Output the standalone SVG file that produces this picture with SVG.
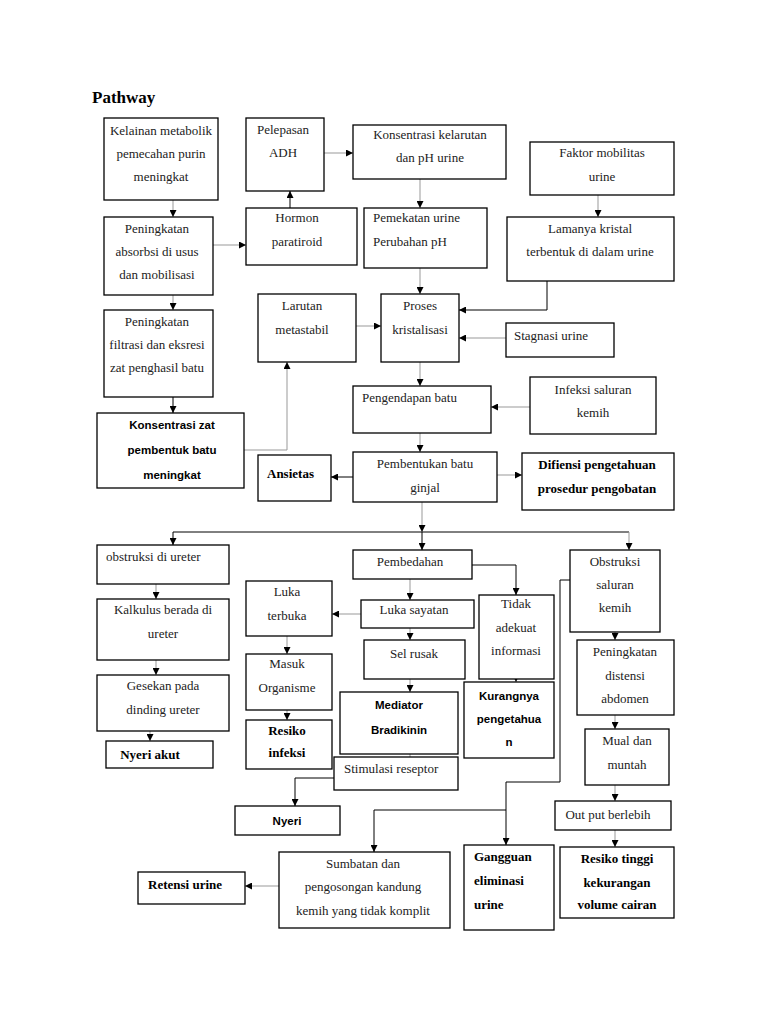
<svg xmlns="http://www.w3.org/2000/svg" width="768" height="1024" viewBox="0 0 768 1024">
<defs>
<marker id="a" viewBox="0 0 10 10" refX="10" refY="5" markerWidth="7" markerHeight="7" orient="auto" markerUnits="userSpaceOnUse"><path d="M0,0L10,5L0,10z" fill="#000"/></marker>
</defs>
<style>
rect{fill:#fff;stroke:#000;stroke-width:1.3}
text{font-family:"Liberation Serif",serif;font-size:13px;fill:#222}
.c{text-anchor:middle}
.b{font-weight:bold;fill:#000;font-size:13px}
.s{font-family:"Liberation Sans",Arial,sans-serif;font-weight:bold;font-size:11.5px;fill:#000}
.g{fill:none;stroke:#999;stroke-width:1;marker-end:url(#a)}
.k{fill:none;stroke:#000;stroke-width:1;marker-end:url(#a)}
.n{fill:none;stroke:#000;stroke-width:1}
</style>
<rect x="0" y="0" width="768" height="1024" style="stroke:none"/>
<text x="92" y="103" style="font-size:17px;font-weight:bold;fill:#000">Pathway</text>
<g id="connectors">
<path class="g" d="M173,200V217"/>
<path class="g" d="M173,295V310"/>
<path class="k" d="M173,397V413"/>
<path class="g" d="M213,245H246"/>
<path class="k" d="M290,208V191"/>
<path class="g" d="M324,153H353"/>
<path class="g" d="M420,179V208"/>
<path class="g" d="M420,268V294"/>
<path class="g" d="M598,195V217"/>
<path class="k" d="M547,281V310H459"/>
<path class="g" d="M506,338H459"/>
<path class="g" d="M356,326H381"/>
<path class="g" d="M244,450H287V362"/>
<path class="g" d="M420,362V386"/>
<path class="g" d="M530,407H491"/>
<path class="g" d="M420,433V452"/>
<path class="k" d="M353,477H331"/>
<path class="g" d="M497,475H522"/>
<path class="g" d="M422,502V532"/>
<path class="n" d="M173,532H629"/>
<path class="k" d="M173,532V545"/>
<path class="k" d="M422,532V550"/>
<path class="g" d="M629,532V550"/>
<path class="g" d="M156,584V599"/>
<path class="g" d="M156,660V675"/>
<path class="g" d="M150,731V741"/>
<path class="g" d="M410,579V600"/>
<path class="k" d="M472,565H516V595"/>
<path class="g" d="M361,614H332"/>
<path class="g" d="M287,636V654"/>
<path class="g" d="M287,710V720"/>
<path class="g" d="M410,628V640"/>
<path class="g" d="M410,679V692"/>
<path class="g" d="M410,754V765"/>
<path class="g" d="M516,679V682"/>
<path class="k" d="M334,778H295V806"/>
<path class="g" d="M615,632V640"/>
<path class="g" d="M615,715V729"/>
<path class="g" d="M615,785V801"/>
<path class="g" d="M615,830V847"/>
<path class="n" d="M570,580H560V782H506"/>
<path class="k" d="M506,782V845"/>
<path class="k" d="M506,810H374V852"/>
<path class="g" d="M279,886H245"/>
</g>
<g id="n1"><rect x="104" y="118" width="114" height="82"/><text class="c" x="161" y="135">Kelainan metabolik</text><text class="c" x="161" y="158">pemecahan purin</text><text class="c" x="161" y="181">meningkat</text></g>
<g id="n2"><rect x="246" y="118" width="78" height="73"/><text class="c" x="283" y="134">Pelepasan</text><text class="c" x="283" y="157">ADH</text></g>
<g id="n3"><rect x="353" y="125" width="153" height="54"/><text class="c" x="430" y="139">Konsentrasi kelarutan</text><text class="c" x="430" y="162">dan pH  urine</text></g>
<g id="n4"><rect x="530" y="142" width="144" height="53"/><text class="c" x="602" y="157">Faktor mobilitas</text><text class="c" x="602" y="181">urine</text></g>
<g id="n5"><rect x="104" y="217" width="109" height="78"/><text class="c" x="157" y="233">Peningkatan</text><text class="c" x="157" y="256">absorbsi di usus</text><text class="c" x="157" y="279">dan mobilisasi</text></g>
<g id="n6"><rect x="246" y="208" width="111" height="57"/><text class="c" x="297" y="222">Hormon</text><text class="c" x="297" y="246">paratiroid</text></g>
<g id="n7"><rect x="364" y="208" width="123" height="60"/><text x="373" y="222">Pemekatan urine</text><text x="373" y="246">Perubahan pH</text></g>
<g id="n8"><rect x="507" y="217" width="167" height="64"/><text class="c" x="590" y="233">Lamanya kristal</text><text class="c" x="590" y="256">terbentuk di dalam urine</text></g>
<g id="n9"><rect x="104" y="310" width="109" height="87"/><text class="c" x="157" y="326">Peningkatan</text><text class="c" x="157" y="349">filtrasi dan eksresi</text><text class="c" x="157" y="372">zat penghasil batu</text></g>
<g id="n10"><rect x="258" y="294" width="98" height="68"/><text class="c" x="302" y="310">Larutan</text><text class="c" x="302" y="334">metastabil</text></g>
<g id="n11"><rect x="381" y="294" width="78" height="68"/><text class="c" x="420" y="310">Proses</text><text class="c" x="420" y="334">kristalisasi</text></g>
<g id="n12"><rect x="506" y="323" width="108" height="34"/><text x="514" y="340">Stagnasi urine</text></g>
<g id="n13"><rect x="97" y="413" width="147" height="75"/><text class="c s" x="172" y="429">Konsentrasi zat</text><text class="c s" x="172" y="454">pembentuk batu</text><text class="c s" x="172" y="479">meningkat</text></g>
<g id="n14"><rect x="353" y="386" width="138" height="47"/><text x="362" y="402">Pengendapan batu</text></g>
<g id="n15"><rect x="530" y="377" width="126" height="57"/><text class="c" x="593" y="394">Infeksi saluran</text><text class="c" x="593" y="417">kemih</text></g>
<g id="n16"><rect x="258" y="455" width="73" height="46"/><text class="b" x="267" y="478">Ansietas</text></g>
<g id="n17"><rect x="353" y="452" width="144" height="50"/><text class="c" x="425" y="468">Pembentukan batu</text><text class="c" x="425" y="492">ginjal</text></g>
<g id="n18"><rect x="522" y="453" width="152" height="57"/><text class="c b" x="597" y="469">Difiensi pengetahuan</text><text class="c b" x="597" y="493">prosedur pengobatan</text></g>
<g id="n19"><rect x="97" y="545" width="132" height="39"/><text x="106" y="561">obstruksi di ureter</text></g>
<g id="n20"><rect x="353" y="550" width="119" height="29"/><text class="c" x="410" y="566">Pembedahan</text></g>
<g id="n21"><rect x="570" y="550" width="90" height="82"/><text class="c" x="615" y="566">Obstruksi</text><text class="c" x="615" y="589">saluran</text><text class="c" x="615" y="612">kemih</text></g>
<g id="n22"><rect x="97" y="599" width="132" height="61"/><text class="c" x="163" y="614">Kalkulus berada di</text><text class="c" x="163" y="638">ureter</text></g>
<g id="n23"><rect x="246" y="581" width="86" height="55"/><text class="c" x="287" y="596">Luka</text><text class="c" x="287" y="620">terbuka</text></g>
<g id="n24"><rect x="361" y="600" width="113" height="28"/><text class="c" x="414" y="614">Luka sayatan</text></g>
<g id="n25"><rect x="479" y="595" width="75" height="84"/><text class="c" x="516" y="608">Tidak</text><text class="c" x="516" y="632">adekuat</text><text class="c" x="516" y="655">informasi</text></g>
<g id="n26"><rect x="364" y="640" width="101" height="39"/><text class="c" x="414" y="658">Sel rusak</text></g>
<g id="n27"><rect x="577" y="640" width="97" height="75"/><text class="c" x="625" y="656">Peningkatan</text><text class="c" x="625" y="680">distensi</text><text class="c" x="625" y="703">abdomen</text></g>
<g id="n28"><rect x="97" y="675" width="132" height="56"/><text class="c" x="163" y="690">Gesekan pada</text><text class="c" x="163" y="714">dinding ureter</text></g>
<g id="n29"><rect x="246" y="654" width="86" height="56"/><text class="c" x="287" y="668">Masuk</text><text class="c" x="287" y="692">Organisme</text></g>
<g id="n30"><rect x="340" y="692" width="118" height="62"/><text class="c s" x="399" y="709">Mediator</text><text class="c s" x="399" y="734">Bradikinin</text></g>
<g id="n31"><rect x="464" y="682" width="90" height="76"/><text class="c s" x="509" y="700">Kurangnya</text><text class="c s" x="509" y="723">pengetahua</text><text class="c s" x="509" y="746">n</text></g>
<g id="n32"><rect x="246" y="720" width="86" height="49"/><text class="c b" x="287" y="735">Resiko</text><text class="c b" x="287" y="757">infeksi</text></g>
<g id="n33"><rect x="585" y="729" width="84" height="56"/><text class="c" x="627" y="745">Mual dan</text><text class="c" x="627" y="769">muntah</text></g>
<g id="n34"><rect x="106" y="741" width="107" height="27"/><text class="c b" x="150" y="759">Nyeri akut</text></g>
<g id="n35"><rect x="334" y="757" width="124" height="33"/><text x="344" y="773">Stimulasi reseptor</text></g>
<g id="n36"><rect x="235" y="806" width="105" height="29"/><text class="c s" x="287" y="825">Nyeri</text></g>
<g id="n37"><rect x="555" y="801" width="116" height="29"/><text class="c" x="608" y="819">Out put berlebih</text></g>
<g id="n38"><rect x="279" y="852" width="171" height="76"/><text class="c" x="363" y="868">Sumbatan dan</text><text class="c" x="363" y="891">pengosongan kandung</text><text class="c" x="363" y="915">kemih yang tidak komplit</text></g>
<g id="n39"><rect x="464" y="845" width="90" height="85"/><text class="b" x="474" y="861">Gangguan</text><text class="b" x="474" y="885">eliminasi</text><text class="b" x="474" y="909">urine</text></g>
<g id="n40"><rect x="560" y="847" width="114" height="71"/><text class="c b" x="617" y="863">Resiko tinggi</text><text class="c b" x="617" y="887">kekurangan</text><text class="c b" x="617" y="909">volume cairan</text></g>
<g id="n41"><rect x="138" y="872" width="107" height="32"/><text class="b" x="148" y="889">Retensi urine</text></g>
</svg>
